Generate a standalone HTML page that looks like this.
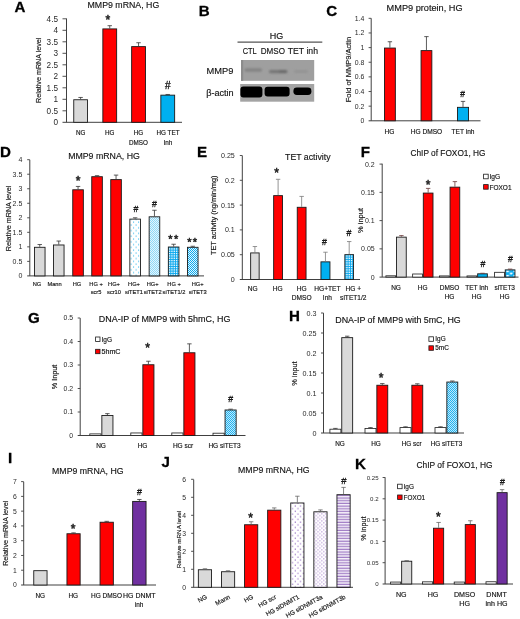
<!DOCTYPE html>
<html lang="en"><head><meta charset="utf-8"><title>Figure</title>
<style>
html,body{margin:0;padding:0;background:#fff;}
body{width:520px;height:619px;overflow:hidden;}
svg{display:block;font-family:"Liberation Sans",Arial,sans-serif;}
text{stroke:#222;stroke-width:0.16px;}
text.T{stroke:none;}
text.L{stroke:#000;stroke-width:0.3px;}
text.S{stroke:#222;stroke-width:0.5px;}
text.H{stroke:#111;stroke-width:0.3px;}
</style></head><body>
<svg width="520" height="619" viewBox="0 0 520 619">
<defs>
<pattern id="pbs" width="5" height="5.6" patternUnits="userSpaceOnUse"><rect width="5" height="5.6" fill="#fff"/><rect x="0.6" y="0.5" width="1" height="1" fill="#12aeee"/><rect x="3.1" y="3.3" width="1" height="1" fill="#12aeee"/></pattern>
<pattern id="pbd" width="2" height="2" patternUnits="userSpaceOnUse"><rect width="2" height="2" fill="#e3f5fd"/><rect x="0" y="0" width="1" height="1" fill="#8fd8f7"/><rect x="1" y="1" width="1" height="1" fill="#8fd8f7"/></pattern>
<pattern id="pbg" width="7" height="7" patternUnits="userSpaceOnUse"><rect width="7" height="7" fill="#0aa8ee"/><rect x="0.90" y="0.90" width="1.4" height="1.4" fill="#e8f7fe"/><rect x="0.90" y="3.23" width="1.4" height="1.4" fill="#e8f7fe"/><rect x="0.90" y="5.57" width="1.4" height="1.4" fill="#e8f7fe"/><rect x="3.23" y="0.90" width="1.4" height="1.4" fill="#e8f7fe"/><rect x="3.23" y="3.23" width="1.4" height="1.4" fill="#e8f7fe"/><rect x="3.23" y="5.57" width="1.4" height="1.4" fill="#e8f7fe"/><rect x="5.57" y="0.90" width="1.4" height="1.4" fill="#e8f7fe"/><rect x="5.57" y="3.23" width="1.4" height="1.4" fill="#e8f7fe"/><rect x="5.57" y="5.57" width="1.4" height="1.4" fill="#e8f7fe"/></pattern>
<pattern id="pbc" width="3.4" height="3.4" patternUnits="userSpaceOnUse" patternTransform="rotate(45)"><rect width="3.4" height="3.4" fill="#d2f0fc"/><rect x="0" y="0" width="1.7" height="1.7" fill="#0eaaee"/><rect x="1.7" y="1.7" width="1.7" height="1.7" fill="#0eaaee"/></pattern>
<pattern id="pbc3" width="2" height="2" patternUnits="userSpaceOnUse"><rect width="2" height="2" fill="#e4f6fe"/><rect x="0" y="0" width="1" height="1" fill="#0caaee"/><rect x="1" y="1" width="1" height="1" fill="#0caaee"/></pattern>
<pattern id="pbc2" width="2" height="2" patternUnits="userSpaceOnUse"><rect width="2" height="2" fill="#bfe9fb"/><rect x="0" y="0" width="1" height="1" fill="#22b3f0"/><rect x="1" y="1" width="1" height="1" fill="#22b3f0"/></pattern>
<pattern id="pbl" x="504.9" y="269.6" width="7.2" height="4.4" patternUnits="userSpaceOnUse"><rect width="7.2" height="4.4" fill="#10aef0"/><rect x="1.4" y="0.9" width="2.6" height="1.7" fill="#f4fbff"/><rect x="5" y="3.1" width="2.6" height="1.7" fill="#f4fbff"/><rect x="5" y="-1.3" width="2.6" height="1.7" fill="#f4fbff"/><rect x="-2.2" y="3.1" width="2.6" height="1.7" fill="#f4fbff"/></pattern>
<pattern id="pps" width="5.3" height="5.4" patternUnits="userSpaceOnUse"><rect width="5.3" height="5.4" fill="#fff"/><rect x="0.6" y="0.5" width="1.1" height="1.1" fill="#8a5cbc"/><rect x="3.25" y="3.2" width="1.1" height="1.1" fill="#8a5cbc"/></pattern>
<pattern id="ppd" width="3.8" height="3.6" patternUnits="userSpaceOnUse"><rect width="3.8" height="3.6" fill="#fff"/><rect x="0.3" y="0.3" width="1" height="1" fill="#9466c2"/><rect x="2.2" y="2.1" width="1" height="1" fill="#9466c2"/></pattern>
<pattern id="pph" width="2.7" height="2.7" patternUnits="userSpaceOnUse"><rect width="2.7" height="2.7" fill="#f6f1fa"/><rect x="0" y="0.6" width="2.7" height="1.15" fill="#9b76c2"/></pattern>
<linearGradient id="g1" x1="0" y1="0" x2="0" y2="1"><stop offset="0" stop-color="#a6a6a6"/><stop offset="1" stop-color="#9c9c9c"/></linearGradient>
<filter id="bl" x="-20%" y="-50%" width="140%" height="200%"><feGaussianBlur stdDeviation="1.1"/></filter>
<filter id="bl2" x="-20%" y="-50%" width="140%" height="200%"><feGaussianBlur stdDeviation="0.6"/></filter>
</defs>
<rect width="520" height="619" fill="#fff"/>

<text class="L" x="14.60" y="11.90" font-size="15.1" font-weight="bold" fill="#000">A</text>
<text class="L" x="198.70" y="16.00" font-size="15.1" font-weight="bold" fill="#000">B</text>
<text class="L" x="326.20" y="15.80" font-size="15.1" font-weight="bold" fill="#000">C</text>
<text class="L" x="-0.10" y="156.90" font-size="15.1" font-weight="bold" fill="#000">D</text>
<text class="L" x="197.00" y="156.90" font-size="15.1" font-weight="bold" fill="#000">E</text>
<text class="L" x="360.80" y="156.90" font-size="15.1" font-weight="bold" fill="#000">F</text>
<text class="L" x="28.00" y="323.20" font-size="15.1" font-weight="bold" fill="#000">G</text>
<text class="L" x="289.10" y="320.60" font-size="15.1" font-weight="bold" fill="#000">H</text>
<text class="L" x="8.00" y="463.30" font-size="15.1" font-weight="bold" fill="#000">I</text>
<text class="L" x="161.50" y="467.30" font-size="15.1" font-weight="bold" fill="#000">J</text>
<text class="L" x="355.10" y="469.00" font-size="15.1" font-weight="bold" fill="#000">K</text>
<g id="pA">
<text x="123.40" y="8.30" font-size="9.3" text-anchor="middle" textLength="71.7" lengthAdjust="spacingAndGlyphs" fill="#111">MMP9 mRNA, HG</text>
<path d="M66.50 18.50V122.30M62.50 122.30H182.00" stroke="#404040" stroke-width="1" fill="none"/>
<text class="T" x="58.00" y="125.25" font-size="8.2" text-anchor="end" fill="#2a2a2a">0</text>
<text class="T" x="58.00" y="113.75" font-size="8.2" text-anchor="end" fill="#2a2a2a">0.5</text>
<text class="T" x="58.00" y="102.25" font-size="8.2" text-anchor="end" fill="#2a2a2a">1</text>
<text class="T" x="58.00" y="90.75" font-size="8.2" text-anchor="end" fill="#2a2a2a">1.5</text>
<text class="T" x="58.00" y="79.25" font-size="8.2" text-anchor="end" fill="#2a2a2a">2</text>
<text class="T" x="58.00" y="67.75" font-size="8.2" text-anchor="end" fill="#2a2a2a">2.5</text>
<text class="T" x="58.00" y="56.25" font-size="8.2" text-anchor="end" fill="#2a2a2a">3</text>
<text class="T" x="58.00" y="44.75" font-size="8.2" text-anchor="end" fill="#2a2a2a">3.5</text>
<text class="T" x="58.00" y="33.25" font-size="8.2" text-anchor="end" fill="#2a2a2a">4</text>
<text class="T" x="58.00" y="21.75" font-size="8.2" text-anchor="end" fill="#2a2a2a">4.5</text>
<path d="M62.50 110.80H66.50M62.50 99.30H66.50M62.50 87.80H66.50M62.50 76.30H66.50M62.50 64.80H66.50M62.50 53.30H66.50M62.50 41.80H66.50M62.50 30.30H66.50M62.50 18.80H66.50" stroke="#404040" stroke-width="0.9" fill="none"/>
<text x="41.30" y="70.30" font-size="7.1" text-anchor="middle" transform="rotate(-90 41.30 70.30)" textLength="65.4" lengthAdjust="spacingAndGlyphs" fill="#111">Relative mRNA level</text>
<rect x="73.75" y="99.75" width="13.70" height="22.55" fill="#d9d9d9" stroke="#1a1a1a" stroke-width="0.9"/>
<path d="M80.60 99.30V97.46M78.40 97.46H82.80" stroke="#333" stroke-width="0.8" fill="none"/>
<rect x="102.85" y="28.91" width="13.80" height="93.39" fill="#ff0000" stroke="#1a1a1a" stroke-width="0.9"/>
<path d="M109.75 28.46V25.70M107.55 25.70H111.95" stroke="#333" stroke-width="0.8" fill="none"/>
<rect x="131.65" y="46.62" width="13.80" height="75.68" fill="#ff0000" stroke="#1a1a1a" stroke-width="0.9"/>
<path d="M138.55 46.17V42.72M136.35 42.72H140.75" stroke="#333" stroke-width="0.8" fill="none"/>
<rect x="160.85" y="95.15" width="13.80" height="27.15" fill="#00b0f0" stroke="#1a1a1a" stroke-width="0.9"/>
<path d="M167.75 94.70V94.47M165.55 94.47H169.95" stroke="#333" stroke-width="0.8" fill="none"/>
<text x="80.80" y="134.80" font-size="6.3" text-anchor="middle" fill="#111">NG</text>
<text x="109.80" y="134.80" font-size="6.3" text-anchor="middle" fill="#111">HG</text>
<text x="138.50" y="134.80" font-size="6.3" text-anchor="middle" fill="#111">HG</text>
<text x="138.50" y="144.50" font-size="6.3" text-anchor="middle" fill="#111">DMSO</text>
<text x="168.00" y="134.80" font-size="6.3" text-anchor="middle" fill="#111">HG TET</text>
<text x="168.00" y="144.50" font-size="6.3" text-anchor="middle" fill="#111">Inh</text>
<text class="S" x="107.90" y="23.99" font-size="12.2" text-anchor="middle" fill="#222">*</text>
<text class="H" x="167.90" y="89.00" font-size="10" text-anchor="middle" fill="#111">#</text>
</g>
<g id="pB">
<text x="276.50" y="38.80" font-size="9" text-anchor="middle" fill="#111">HG</text>
<path d="M237.5 42.2H322.3" stroke="#555" stroke-width="1.3"/>
<text x="242.70" y="54.00" font-size="9" textLength="14.0" lengthAdjust="spacingAndGlyphs" fill="#111">CTL</text>
<text x="260.80" y="54.00" font-size="9" textLength="24.2" lengthAdjust="spacingAndGlyphs" fill="#111">DMSO</text>
<text x="287.80" y="54.00" font-size="9" textLength="30.2" lengthAdjust="spacingAndGlyphs" fill="#111">TET inh</text>
<text x="206.60" y="74.20" font-size="9" textLength="26.8" lengthAdjust="spacingAndGlyphs" fill="#111">MMP9</text>
<text x="206.20" y="96.30" font-size="9" textLength="27.5" lengthAdjust="spacingAndGlyphs" fill="#111">β-actin</text>
<rect x="241" y="60" width="73.2" height="20.8" fill="#9f9f9f"/>
<rect x="241" y="60" width="2.2" height="20.8" fill="#8c8c8c"/>
<g filter="url(#bl)"><rect x="244.5" y="68.6" width="17.5" height="3" rx="1.5" fill="#808080"/><rect x="269" y="70" width="18.5" height="3.2" rx="1.6" fill="#747474"/><rect x="279" y="70.2" width="8" height="2.6" rx="1.3" fill="#686868"/><rect x="294" y="70.3" width="14" height="2.4" rx="1.2" fill="#929292"/></g>
<rect x="240.2" y="84" width="74" height="17.7" fill="#a4a4a4"/>
<g filter="url(#bl2)"><rect x="240.4" y="86.6" width="22" height="11" rx="3" fill="#000"/><rect x="264.6" y="86.8" width="25" height="9.8" rx="3" fill="#000"/><rect x="293.4" y="87.6" width="18" height="7.4" rx="3.4" fill="#040404"/></g>
</g>
<g id="pC">
<text x="424.60" y="10.80" font-size="9.3" text-anchor="middle" textLength="76.0" lengthAdjust="spacingAndGlyphs" fill="#111">MMP9 protein, HG</text>
<path d="M371.20 18.30V120.80M368.60 120.80H480.50" stroke="#404040" stroke-width="1" fill="none"/>
<text class="T" x="364.40" y="123.28" font-size="6.9" text-anchor="end" fill="#2a2a2a">0</text>
<text class="T" x="364.40" y="108.64" font-size="6.9" text-anchor="end" fill="#2a2a2a">0.2</text>
<text class="T" x="364.40" y="94.00" font-size="6.9" text-anchor="end" fill="#2a2a2a">0.4</text>
<text class="T" x="364.40" y="79.36" font-size="6.9" text-anchor="end" fill="#2a2a2a">0.6</text>
<text class="T" x="364.40" y="64.72" font-size="6.9" text-anchor="end" fill="#2a2a2a">0.8</text>
<text class="T" x="364.40" y="50.08" font-size="6.9" text-anchor="end" fill="#2a2a2a">1</text>
<text class="T" x="364.40" y="35.44" font-size="6.9" text-anchor="end" fill="#2a2a2a">1.2</text>
<text class="T" x="364.40" y="20.80" font-size="6.9" text-anchor="end" fill="#2a2a2a">1.4</text>
<path d="M368.60 106.16H371.20M368.60 91.52H371.20M368.60 76.88H371.20M368.60 62.24H371.20M368.60 47.60H371.20M368.60 32.96H371.20M368.60 18.32H371.20" stroke="#404040" stroke-width="0.9" fill="none"/>
<text x="350.80" y="69.50" font-size="7.2" text-anchor="middle" transform="rotate(-90 350.80 69.50)" textLength="65.4" lengthAdjust="spacingAndGlyphs" fill="#111">Fold of MMP9/Actin</text>
<rect x="384.45" y="48.05" width="10.90" height="72.75" fill="#ff0000" stroke="#1a1a1a" stroke-width="0.9"/>
<path d="M389.90 47.60V41.74M387.70 41.74H392.10" stroke="#333" stroke-width="0.8" fill="none"/>
<rect x="421.05" y="50.61" width="10.80" height="70.19" fill="#ff0000" stroke="#1a1a1a" stroke-width="0.9"/>
<path d="M426.45 50.16V36.62M424.25 36.62H428.65" stroke="#333" stroke-width="0.8" fill="none"/>
<rect x="457.45" y="107.34" width="11.10" height="13.46" fill="#00b0f0" stroke="#1a1a1a" stroke-width="0.9"/>
<path d="M463.00 106.89V101.40M460.80 101.40H465.20" stroke="#333" stroke-width="0.8" fill="none"/>
<text x="389.50" y="133.90" font-size="6.6" text-anchor="middle" fill="#111">HG</text>
<text x="426.50" y="133.90" font-size="6.6" text-anchor="middle" fill="#111">HG DMSO</text>
<text x="463.00" y="133.90" font-size="6.6" text-anchor="middle" fill="#111">TET inh</text>
<text class="H" x="462.60" y="96.72" font-size="8.4" text-anchor="middle" fill="#111">#</text>
</g>
<g id="pD">
<text x="104.00" y="158.80" font-size="9.3" text-anchor="middle" textLength="71.7" lengthAdjust="spacingAndGlyphs" fill="#111">MMP9 mRNA, HG</text>
<path d="M29.80 159.80V275.90M27.20 275.90H204.00" stroke="#404040" stroke-width="1" fill="none"/>
<text class="T" x="22.30" y="278.42" font-size="7" text-anchor="end" fill="#2a2a2a">0</text>
<text class="T" x="22.30" y="263.89" font-size="7" text-anchor="end" fill="#2a2a2a">0.5</text>
<text class="T" x="22.30" y="249.37" font-size="7" text-anchor="end" fill="#2a2a2a">1</text>
<text class="T" x="22.30" y="234.84" font-size="7" text-anchor="end" fill="#2a2a2a">1.5</text>
<text class="T" x="22.30" y="220.32" font-size="7" text-anchor="end" fill="#2a2a2a">2</text>
<text class="T" x="22.30" y="205.79" font-size="7" text-anchor="end" fill="#2a2a2a">2.5</text>
<text class="T" x="22.30" y="191.27" font-size="7" text-anchor="end" fill="#2a2a2a">3</text>
<text class="T" x="22.30" y="176.74" font-size="7" text-anchor="end" fill="#2a2a2a">3.5</text>
<text class="T" x="22.30" y="162.22" font-size="7" text-anchor="end" fill="#2a2a2a">4</text>
<path d="M27.20 261.38H29.80M27.20 246.85H29.80M27.20 232.32H29.80M27.20 217.80H29.80M27.20 203.27H29.80M27.20 188.75H29.80M27.20 174.22H29.80M27.20 159.70H29.80" stroke="#404040" stroke-width="0.9" fill="none"/>
<text x="10.90" y="218.50" font-size="7.1" text-anchor="middle" transform="rotate(-90 10.90 218.50)" textLength="65.5" lengthAdjust="spacingAndGlyphs" fill="#111">Relative mRNA level</text>
<rect x="34.45" y="247.30" width="10.60" height="28.60" fill="#d9d9d9" stroke="#1a1a1a" stroke-width="0.9"/>
<path d="M39.75 246.85V244.53M37.55 244.53H41.95" stroke="#333" stroke-width="0.8" fill="none"/>
<rect x="53.45" y="244.98" width="10.60" height="30.92" fill="#d9d9d9" stroke="#1a1a1a" stroke-width="0.9"/>
<path d="M58.75 244.53V241.04M56.55 241.04H60.95" stroke="#333" stroke-width="0.8" fill="none"/>
<rect x="72.75" y="189.78" width="10.60" height="86.12" fill="#ff0000" stroke="#1a1a1a" stroke-width="0.9"/>
<path d="M78.05 189.33V186.43M75.85 186.43H80.25" stroke="#333" stroke-width="0.8" fill="none"/>
<rect x="91.75" y="176.71" width="10.60" height="99.19" fill="#ff0000" stroke="#1a1a1a" stroke-width="0.9"/>
<path d="M97.05 176.26V175.68M94.85 175.68H99.25" stroke="#333" stroke-width="0.8" fill="none"/>
<rect x="110.75" y="179.61" width="10.60" height="96.29" fill="#ff0000" stroke="#1a1a1a" stroke-width="0.9"/>
<path d="M116.05 179.16V175.10M113.85 175.10H118.25" stroke="#333" stroke-width="0.8" fill="none"/>
<rect x="129.85" y="219.12" width="10.60" height="56.78" fill="url(#pbs)" stroke="#1a1a1a" stroke-width="0.9"/>
<path d="M135.15 218.67V217.80M132.95 217.80H137.35" stroke="#333" stroke-width="0.8" fill="none"/>
<rect x="149.15" y="216.80" width="10.60" height="59.10" fill="url(#pbd)" stroke="#1a1a1a" stroke-width="0.9"/>
<path d="M154.45 216.35V210.25M152.25 210.25H156.65" stroke="#333" stroke-width="0.8" fill="none"/>
<rect x="168.35" y="247.01" width="10.60" height="28.89" fill="url(#pbg)" stroke="#1a1a1a" stroke-width="0.9"/>
<path d="M173.65 246.56V244.24M171.45 244.24H175.85" stroke="#333" stroke-width="0.8" fill="none"/>
<rect x="187.45" y="247.30" width="10.60" height="28.60" fill="url(#pbc3)" stroke="#1a1a1a" stroke-width="0.9"/>
<path d="M192.75 246.85V246.27M190.55 246.27H194.95" stroke="#333" stroke-width="0.8" fill="none"/>
<text x="37.00" y="285.60" font-size="5.7" text-anchor="middle" fill="#111">NG</text>
<text x="54.60" y="285.60" font-size="5.7" text-anchor="middle" fill="#111">Mann</text>
<text x="77.00" y="285.60" font-size="5.7" text-anchor="middle" fill="#111">HG</text>
<text x="96.00" y="285.60" font-size="5.7" text-anchor="middle" fill="#111">HG +</text>
<text x="96.00" y="294.40" font-size="5.7" text-anchor="middle" fill="#111">scr5</text>
<text x="114.00" y="285.60" font-size="5.7" text-anchor="middle" fill="#111">HG+</text>
<text x="114.00" y="294.40" font-size="5.7" text-anchor="middle" fill="#111">scr10</text>
<text x="134.00" y="285.60" font-size="5.7" text-anchor="middle" fill="#111">HG+</text>
<text x="134.00" y="294.40" font-size="5.7" text-anchor="middle" fill="#111">siTET1</text>
<text x="152.70" y="285.60" font-size="5.7" text-anchor="middle" fill="#111">HG+</text>
<text x="152.70" y="294.40" font-size="5.7" text-anchor="middle" fill="#111">siTET2</text>
<text x="174.00" y="285.60" font-size="5.7" text-anchor="middle" fill="#111">HG +</text>
<text x="174.00" y="294.40" font-size="5.7" text-anchor="middle" fill="#111">siTET1/2</text>
<text x="197.70" y="285.60" font-size="5.7" text-anchor="middle" fill="#111">HG+</text>
<text x="197.70" y="294.40" font-size="5.7" text-anchor="middle" fill="#111">siTET3</text>
<text class="S" x="78.00" y="185.39" font-size="12.2" text-anchor="middle" fill="#222">*</text>
<text class="H" x="135.80" y="212.33" font-size="8.7" text-anchor="middle" fill="#111">#</text>
<text class="H" x="154.50" y="207.43" font-size="8.7" text-anchor="middle" fill="#111">#</text>
<text class="S" x="170.50" y="243.24" font-size="11" text-anchor="middle" fill="#222">*</text>
<text class="S" x="176.20" y="243.24" font-size="11" text-anchor="middle" fill="#222">*</text>
<text class="S" x="189.50" y="245.94" font-size="11" text-anchor="middle" fill="#222">*</text>
<text class="S" x="195.00" y="245.94" font-size="11" text-anchor="middle" fill="#222">*</text>
</g>
<g id="pE">
<text x="307.80" y="159.80" font-size="9.3" text-anchor="middle" textLength="45.5" lengthAdjust="spacingAndGlyphs" fill="#111">TET activity</text>
<path d="M242.30 155.60V279.50M239.80 279.50H360.00" stroke="#404040" stroke-width="1" fill="none"/>
<text class="T" x="234.80" y="282.06" font-size="7.1" text-anchor="end" fill="#2a2a2a">0</text>
<text class="T" x="234.80" y="257.26" font-size="7.1" text-anchor="end" fill="#2a2a2a">0.05</text>
<text class="T" x="234.80" y="232.46" font-size="7.1" text-anchor="end" fill="#2a2a2a">0.1</text>
<text class="T" x="234.80" y="207.66" font-size="7.1" text-anchor="end" fill="#2a2a2a">0.15</text>
<text class="T" x="234.80" y="182.86" font-size="7.1" text-anchor="end" fill="#2a2a2a">0.2</text>
<text class="T" x="234.80" y="158.06" font-size="7.1" text-anchor="end" fill="#2a2a2a">0.25</text>
<path d="M239.80 254.70H242.30M239.80 229.90H242.30M239.80 205.10H242.30M239.80 180.30H242.30M239.80 155.50H242.30" stroke="#404040" stroke-width="0.9" fill="none"/>
<text x="216.20" y="215.30" font-size="7.4" text-anchor="middle" transform="rotate(-90 216.20 215.30)" textLength="79.5" lengthAdjust="spacingAndGlyphs" fill="#111">TET activity (ng/min/mg)</text>
<rect x="250.65" y="252.92" width="8.50" height="26.58" fill="#d9d9d9" stroke="#1a1a1a" stroke-width="0.9"/>
<path d="M254.90 252.47V246.52M252.70 246.52H257.10" stroke="#7a7a7a" stroke-width="0.8" fill="none"/>
<rect x="273.65" y="195.63" width="8.90" height="83.87" fill="#ff0000" stroke="#1a1a1a" stroke-width="0.9"/>
<path d="M278.10 195.18V179.31M275.90 179.31H280.30" stroke="#7a7a7a" stroke-width="0.8" fill="none"/>
<rect x="297.25" y="207.29" width="8.80" height="72.21" fill="#ff0000" stroke="#1a1a1a" stroke-width="0.9"/>
<path d="M301.65 206.84V196.42M299.45 196.42H303.85" stroke="#7a7a7a" stroke-width="0.8" fill="none"/>
<rect x="320.95" y="261.85" width="9.00" height="17.65" fill="#00b0f0" stroke="#1a1a1a" stroke-width="0.9"/>
<path d="M325.45 261.40V252.22M323.25 252.22H327.65" stroke="#7a7a7a" stroke-width="0.8" fill="none"/>
<rect x="344.85" y="254.65" width="8.70" height="24.85" fill="url(#pbg)" stroke="#1a1a1a" stroke-width="0.9"/>
<path d="M349.20 254.20V241.56M347.00 241.56H351.40" stroke="#7a7a7a" stroke-width="0.8" fill="none"/>
<text x="252.60" y="290.50" font-size="6.6" text-anchor="middle" fill="#111">NG</text>
<text x="277.60" y="290.50" font-size="6.6" text-anchor="middle" fill="#111">HG</text>
<text x="301.70" y="290.50" font-size="6.6" text-anchor="middle" fill="#111">HG</text>
<text x="301.70" y="300.00" font-size="6.6" text-anchor="middle" fill="#111">DMSO</text>
<text x="327.40" y="290.50" font-size="6.6" text-anchor="middle" fill="#111">HG+TET</text>
<text x="327.40" y="300.00" font-size="6.6" text-anchor="middle" fill="#111">Inh</text>
<text x="353.30" y="290.50" font-size="6.6" text-anchor="middle" fill="#111">HG +</text>
<text x="353.30" y="300.00" font-size="6.6" text-anchor="middle" fill="#111">siTET1/2</text>
<text class="S" x="276.50" y="177.09" font-size="12.2" text-anchor="middle" fill="#222">*</text>
<text class="H" x="324.30" y="245.13" font-size="8.7" text-anchor="middle" fill="#111">#</text>
<text class="H" x="348.80" y="236.13" font-size="8.7" text-anchor="middle" fill="#111">#</text>
</g>
<g id="pF">
<text x="448.00" y="156.20" font-size="9.3" text-anchor="middle" textLength="75.0" lengthAdjust="spacingAndGlyphs" fill="#111">ChIP of FOXO1, HG</text>
<path d="M382.20 163.70V277.10M379.50 277.10H518.50" stroke="#404040" stroke-width="1" fill="none"/>
<text class="T" x="374.70" y="279.62" font-size="7" text-anchor="end" fill="#2a2a2a">0</text>
<text class="T" x="374.70" y="251.37" font-size="7" text-anchor="end" fill="#2a2a2a">0.05</text>
<text class="T" x="374.70" y="223.12" font-size="7" text-anchor="end" fill="#2a2a2a">0.1</text>
<text class="T" x="374.70" y="194.87" font-size="7" text-anchor="end" fill="#2a2a2a">0.15</text>
<text class="T" x="374.70" y="166.62" font-size="7" text-anchor="end" fill="#2a2a2a">0.2</text>
<path d="M379.50 248.85H382.20M379.50 220.60H382.20M379.50 192.35H382.20M379.50 164.10H382.20" stroke="#404040" stroke-width="0.9" fill="none"/>
<text x="362.60" y="220.50" font-size="7.2" text-anchor="middle" transform="rotate(-90 362.60 220.50)" textLength="25.0" lengthAdjust="spacingAndGlyphs" fill="#111">% input</text>
<rect x="385.90" y="275.81" width="9.80" height="1.30" fill="#ffffff" stroke="#1a1a1a" stroke-width="0.8"/>
<rect x="396.55" y="237.15" width="9.70" height="39.95" fill="#d9d9d9" stroke="#1a1a1a" stroke-width="0.9"/>
<path d="M401.40 236.70V235.57M399.20 235.57H403.60" stroke="#6b3a3a" stroke-width="0.8" fill="none"/>
<rect x="412.65" y="274.00" width="9.80" height="3.10" fill="#ffffff" stroke="#1a1a1a" stroke-width="0.8"/>
<rect x="423.30" y="193.08" width="9.70" height="84.02" fill="#ff0000" stroke="#1a1a1a" stroke-width="0.9"/>
<path d="M428.15 192.63V188.40M425.95 188.40H430.35" stroke="#6b3a3a" stroke-width="0.8" fill="none"/>
<rect x="439.40" y="275.92" width="9.80" height="1.18" fill="#ffffff" stroke="#1a1a1a" stroke-width="0.8"/>
<rect x="450.05" y="187.15" width="9.70" height="89.95" fill="#ff0000" stroke="#1a1a1a" stroke-width="0.9"/>
<path d="M454.90 186.70V181.62M452.70 181.62H457.10" stroke="#6b3a3a" stroke-width="0.8" fill="none"/>
<rect x="467.00" y="275.92" width="9.80" height="1.18" fill="#ffffff" stroke="#1a1a1a" stroke-width="0.8"/>
<rect x="477.65" y="273.82" width="9.70" height="3.28" fill="#00b0f0" stroke="#1a1a1a" stroke-width="0.9"/>
<path d="M482.50 273.37V273.26M480.30 273.26H484.70" stroke="#6b3a3a" stroke-width="0.8" fill="none"/>
<rect x="494.60" y="272.30" width="9.80" height="4.80" fill="#ffffff" stroke="#1a1a1a" stroke-width="0.8"/>
<rect x="505.25" y="269.87" width="9.70" height="7.23" fill="url(#pbl)" stroke="#1a1a1a" stroke-width="0.9"/>
<path d="M510.10 269.42V269.08M507.90 269.08H512.30" stroke="#6b3a3a" stroke-width="0.8" fill="none"/>
<rect x="483.6" y="174.2" width="4.6" height="4.6" fill="#fff" stroke="#1a1a1a" stroke-width="0.8"/>
<rect x="483.6" y="184.6" width="4.6" height="4.6" fill="#ff0000" stroke="#1a1a1a" stroke-width="0.8"/>
<text x="489.50" y="178.70" font-size="6.6" fill="#111">IgG</text>
<text x="489.50" y="189.50" font-size="6.6" textLength="22.0" lengthAdjust="spacingAndGlyphs" fill="#111">FOXO1</text>
<text x="396.00" y="289.80" font-size="6.5" text-anchor="middle" fill="#111">NG</text>
<text x="422.60" y="289.80" font-size="6.5" text-anchor="middle" fill="#111">HG</text>
<text x="449.50" y="289.80" font-size="6.5" text-anchor="middle" fill="#111">DMSO</text>
<text x="449.50" y="299.00" font-size="6.5" text-anchor="middle" fill="#111">HG</text>
<text x="476.70" y="289.80" font-size="6.5" text-anchor="middle" fill="#111">TET Inh</text>
<text x="476.70" y="299.00" font-size="6.5" text-anchor="middle" fill="#111">HG</text>
<text x="504.70" y="289.80" font-size="6.5" text-anchor="middle" fill="#111">siTET3</text>
<text x="504.70" y="299.00" font-size="6.5" text-anchor="middle" fill="#111">HG</text>
<text class="S" x="428.00" y="189.09" font-size="12.2" text-anchor="middle" fill="#222">*</text>
<text class="H" x="483.00" y="267.13" font-size="8.7" text-anchor="middle" fill="#111">#</text>
<text class="H" x="510.40" y="262.43" font-size="8.7" text-anchor="middle" fill="#111">#</text>
</g>
<g id="pG">
<text x="164.60" y="321.50" font-size="8.9" text-anchor="middle" textLength="131.5" lengthAdjust="spacingAndGlyphs" fill="#111">DNA-IP of MMP9 with 5hmC, HG</text>
<path d="M80.20 318.10V435.50M77.70 435.50H245.50" stroke="#404040" stroke-width="1" fill="none"/>
<text class="T" x="73.20" y="437.98" font-size="6.9" text-anchor="end" fill="#2a2a2a">0</text>
<text class="T" x="73.20" y="414.48" font-size="6.9" text-anchor="end" fill="#2a2a2a">0.1</text>
<text class="T" x="73.20" y="390.98" font-size="6.9" text-anchor="end" fill="#2a2a2a">0.2</text>
<text class="T" x="73.20" y="367.48" font-size="6.9" text-anchor="end" fill="#2a2a2a">0.3</text>
<text class="T" x="73.20" y="343.98" font-size="6.9" text-anchor="end" fill="#2a2a2a">0.4</text>
<text class="T" x="73.20" y="320.48" font-size="6.9" text-anchor="end" fill="#2a2a2a">0.5</text>
<path d="M77.70 412.00H80.20M77.70 388.50H80.20M77.70 365.00H80.20M77.70 341.50H80.20M77.70 318.00H80.20" stroke="#404040" stroke-width="0.9" fill="none"/>
<text x="57.40" y="377.00" font-size="6.8" text-anchor="middle" transform="rotate(-90 57.40 377.00)" textLength="24.7" lengthAdjust="spacingAndGlyphs" fill="#111">% Input</text>
<rect x="89.80" y="433.90" width="11.20" height="1.60" fill="#ffffff" stroke="#1a1a1a" stroke-width="0.8"/>
<rect x="101.85" y="415.50" width="11.10" height="20.00" fill="#d9d9d9" stroke="#1a1a1a" stroke-width="0.9"/>
<path d="M107.40 415.06V413.64M105.20 413.64H109.60" stroke="#333" stroke-width="0.8" fill="none"/>
<rect x="130.80" y="432.96" width="11.20" height="2.54" fill="#ffffff" stroke="#1a1a1a" stroke-width="0.8"/>
<rect x="142.85" y="364.75" width="11.10" height="70.75" fill="#ff0000" stroke="#1a1a1a" stroke-width="0.9"/>
<path d="M148.40 364.30V361.24M146.20 361.24H150.60" stroke="#333" stroke-width="0.8" fill="none"/>
<rect x="171.80" y="432.96" width="11.20" height="2.54" fill="#ffffff" stroke="#1a1a1a" stroke-width="0.8"/>
<rect x="183.85" y="352.76" width="11.10" height="82.74" fill="#ff0000" stroke="#1a1a1a" stroke-width="0.9"/>
<path d="M189.40 352.31V343.85M187.20 343.85H191.60" stroke="#333" stroke-width="0.8" fill="none"/>
<rect x="213.00" y="433.20" width="11.20" height="2.30" fill="#ffffff" stroke="#1a1a1a" stroke-width="0.8"/>
<rect x="225.05" y="409.98" width="11.10" height="25.52" fill="url(#pbc2)" stroke="#1a1a1a" stroke-width="0.9"/>
<path d="M230.60 409.53V409.18M228.40 409.18H232.80" stroke="#333" stroke-width="0.8" fill="none"/>
<rect x="95.6" y="337" width="4.4" height="4.4" fill="#fff" stroke="#1a1a1a" stroke-width="0.8"/>
<rect x="95.6" y="349.3" width="4.4" height="4.4" fill="#ff0000" stroke="#1a1a1a" stroke-width="0.8"/>
<text x="101.50" y="341.80" font-size="6.8" textLength="10.5" lengthAdjust="spacingAndGlyphs" fill="#111">IgG</text>
<text x="101.50" y="354.00" font-size="6.8" textLength="19.0" lengthAdjust="spacingAndGlyphs" fill="#111">5hmC</text>
<text x="101.00" y="447.60" font-size="6.5" text-anchor="middle" fill="#111">NG</text>
<text x="142.50" y="447.60" font-size="6.5" text-anchor="middle" fill="#111">HG</text>
<text x="183.00" y="447.60" font-size="6.5" text-anchor="middle" fill="#111">HG scr</text>
<text x="224.50" y="447.60" font-size="6.5" text-anchor="middle" fill="#111">HG siTET3</text>
<text class="S" x="147.50" y="352.39" font-size="12.2" text-anchor="middle" fill="#222">*</text>
<text class="H" x="230.70" y="401.93" font-size="8.7" text-anchor="middle" fill="#111">#</text>
</g>
<g id="pH">
<text x="398.00" y="323.20" font-size="9" text-anchor="middle" textLength="125.5" lengthAdjust="spacingAndGlyphs" fill="#111">DNA-IP of MMP9 with 5mC, HG</text>
<path d="M323.50 313.10V433.00M321.00 433.00H464.00" stroke="#404040" stroke-width="1" fill="none"/>
<text class="T" x="316.50" y="435.59" font-size="7.2" text-anchor="end" fill="#2a2a2a">0</text>
<text class="T" x="316.50" y="415.59" font-size="7.2" text-anchor="end" fill="#2a2a2a">0.05</text>
<text class="T" x="316.50" y="395.59" font-size="7.2" text-anchor="end" fill="#2a2a2a">0.1</text>
<text class="T" x="316.50" y="375.59" font-size="7.2" text-anchor="end" fill="#2a2a2a">0.15</text>
<text class="T" x="316.50" y="355.59" font-size="7.2" text-anchor="end" fill="#2a2a2a">0.2</text>
<text class="T" x="316.50" y="335.59" font-size="7.2" text-anchor="end" fill="#2a2a2a">0.25</text>
<text class="T" x="316.50" y="315.59" font-size="7.2" text-anchor="end" fill="#2a2a2a">0.3</text>
<path d="M321.00 413.00H323.50M321.00 393.00H323.50M321.00 373.00H323.50M321.00 353.00H323.50M321.00 333.00H323.50M321.00 313.00H323.50" stroke="#404040" stroke-width="0.9" fill="none"/>
<text x="296.60" y="373.60" font-size="6.9" text-anchor="middle" transform="rotate(-90 296.60 373.60)" textLength="24.2" lengthAdjust="spacingAndGlyphs" fill="#111">% input</text>
<rect x="329.90" y="429.20" width="11.00" height="3.80" fill="#ffffff" stroke="#1a1a1a" stroke-width="0.8"/>
<path d="M335.40 428.80V428.40M333.20 428.40H337.60" stroke="#333" stroke-width="0.8" fill="none"/>
<rect x="341.75" y="337.65" width="10.90" height="95.35" fill="#d9d9d9" stroke="#1a1a1a" stroke-width="0.9"/>
<path d="M347.20 337.20V336.20M345.00 336.20H349.40" stroke="#333" stroke-width="0.8" fill="none"/>
<rect x="365.00" y="428.40" width="11.00" height="4.60" fill="#ffffff" stroke="#1a1a1a" stroke-width="0.8"/>
<path d="M370.50 428.00V427.60M368.30 427.60H372.70" stroke="#333" stroke-width="0.8" fill="none"/>
<rect x="376.85" y="385.25" width="10.90" height="47.75" fill="#ff0000" stroke="#1a1a1a" stroke-width="0.9"/>
<path d="M382.30 384.80V383.60M380.10 383.60H384.50" stroke="#333" stroke-width="0.8" fill="none"/>
<rect x="400.00" y="427.60" width="11.00" height="5.40" fill="#ffffff" stroke="#1a1a1a" stroke-width="0.8"/>
<path d="M405.50 427.20V426.80M403.30 426.80H407.70" stroke="#333" stroke-width="0.8" fill="none"/>
<rect x="411.85" y="385.25" width="10.90" height="47.75" fill="#ff0000" stroke="#1a1a1a" stroke-width="0.9"/>
<path d="M417.30 384.80V383.80M415.10 383.80H419.50" stroke="#333" stroke-width="0.8" fill="none"/>
<rect x="435.00" y="427.60" width="11.00" height="5.40" fill="#ffffff" stroke="#1a1a1a" stroke-width="0.8"/>
<path d="M440.50 427.20V426.80M438.30 426.80H442.70" stroke="#333" stroke-width="0.8" fill="none"/>
<rect x="446.85" y="382.05" width="10.90" height="50.95" fill="url(#pbc2)" stroke="#1a1a1a" stroke-width="0.9"/>
<path d="M452.30 381.60V381.00M450.10 381.00H454.50" stroke="#333" stroke-width="0.8" fill="none"/>
<rect x="428.9" y="336.8" width="4.5" height="4.5" fill="#fff" stroke="#1a1a1a" stroke-width="0.8"/>
<rect x="428.9" y="345.8" width="4.5" height="4.5" fill="#ff0000" stroke="#1a1a1a" stroke-width="0.8"/>
<text x="435.30" y="341.40" font-size="6.4" fill="#111">IgG</text>
<text x="435.30" y="350.40" font-size="6.4" fill="#111">5mC</text>
<text x="340.00" y="446.00" font-size="6.4" text-anchor="middle" fill="#111">NG</text>
<text x="376.00" y="446.00" font-size="6.4" text-anchor="middle" fill="#111">HG</text>
<text x="411.70" y="446.00" font-size="6.4" text-anchor="middle" fill="#111">HG scr</text>
<text x="446.50" y="446.00" font-size="6.4" text-anchor="middle" fill="#111">HG siTET3</text>
<text class="S" x="381.20" y="382.09" font-size="12.2" text-anchor="middle" fill="#222">*</text>
</g>
<g id="pI">
<text x="87.80" y="474.40" font-size="9.3" text-anchor="middle" textLength="71.5" lengthAdjust="spacingAndGlyphs" fill="#111">MMP9 mRNA, HG</text>
<path d="M23.70 481.80V585.00M21.10 585.00H156.00" stroke="#404040" stroke-width="1" fill="none"/>
<text class="T" x="16.70" y="587.45" font-size="6.8" text-anchor="end" fill="#2a2a2a">0</text>
<text class="T" x="16.70" y="572.68" font-size="6.8" text-anchor="end" fill="#2a2a2a">1</text>
<text class="T" x="16.70" y="557.91" font-size="6.8" text-anchor="end" fill="#2a2a2a">2</text>
<text class="T" x="16.70" y="543.14" font-size="6.8" text-anchor="end" fill="#2a2a2a">3</text>
<text class="T" x="16.70" y="528.37" font-size="6.8" text-anchor="end" fill="#2a2a2a">4</text>
<text class="T" x="16.70" y="513.60" font-size="6.8" text-anchor="end" fill="#2a2a2a">5</text>
<text class="T" x="16.70" y="498.83" font-size="6.8" text-anchor="end" fill="#2a2a2a">6</text>
<text class="T" x="16.70" y="484.06" font-size="6.8" text-anchor="end" fill="#2a2a2a">7</text>
<path d="M21.10 570.23H23.70M21.10 555.46H23.70M21.10 540.69H23.70M21.10 525.92H23.70M21.10 511.15H23.70M21.10 496.38H23.70M21.10 481.61H23.70" stroke="#404040" stroke-width="0.9" fill="none"/>
<text x="7.60" y="533.30" font-size="7.0" text-anchor="middle" transform="rotate(-90 7.60 533.30)" textLength="65.0" lengthAdjust="spacingAndGlyphs" fill="#111">Relative mRNA level</text>
<rect x="33.75" y="570.68" width="13.30" height="14.32" fill="#d9d9d9" stroke="#1a1a1a" stroke-width="0.9"/>
<rect x="66.95" y="533.75" width="13.20" height="51.25" fill="#ff0000" stroke="#1a1a1a" stroke-width="0.9"/>
<path d="M73.55 533.30V532.86M71.35 532.86H75.75" stroke="#333" stroke-width="0.8" fill="none"/>
<rect x="100.05" y="522.23" width="13.30" height="62.77" fill="#ff0000" stroke="#1a1a1a" stroke-width="0.9"/>
<path d="M106.70 521.78V521.34M104.50 521.34H108.90" stroke="#333" stroke-width="0.8" fill="none"/>
<rect x="132.65" y="501.41" width="13.40" height="83.59" fill="#7030a0" stroke="#1a1a1a" stroke-width="0.9"/>
<path d="M139.35 500.96V499.48M137.15 499.48H141.55" stroke="#333" stroke-width="0.8" fill="none"/>
<text x="40.30" y="598.00" font-size="6.4" text-anchor="middle" fill="#111">NG</text>
<text x="73.30" y="598.00" font-size="6.4" text-anchor="middle" fill="#111">HG</text>
<text x="106.50" y="598.00" font-size="6.4" text-anchor="middle" textLength="31.0" lengthAdjust="spacingAndGlyphs" fill="#111">HG DMSO</text>
<text x="139.30" y="598.00" font-size="6.4" text-anchor="middle" textLength="32.5" lengthAdjust="spacingAndGlyphs" fill="#111">HG DNMT</text>
<text x="139.00" y="607.20" font-size="6.4" text-anchor="middle" fill="#111">inh</text>
<text class="S" x="73.00" y="533.39" font-size="12.2" text-anchor="middle" fill="#222">*</text>
<text class="H" x="139.50" y="494.93" font-size="8.7" text-anchor="middle" fill="#111">#</text>
</g>
<g id="pJ">
<text x="273.80" y="473.20" font-size="9.3" text-anchor="middle" textLength="71.5" lengthAdjust="spacingAndGlyphs" fill="#111">MMP9 mRNA, HG</text>
<path d="M193.70 479.60V587.30M191.10 587.30H353.00" stroke="#404040" stroke-width="1" fill="none"/>
<text class="T" x="186.10" y="589.75" font-size="6.8" text-anchor="end" fill="#2a2a2a">0</text>
<text class="T" x="186.10" y="571.75" font-size="6.8" text-anchor="end" fill="#2a2a2a">1</text>
<text class="T" x="186.10" y="553.75" font-size="6.8" text-anchor="end" fill="#2a2a2a">2</text>
<text class="T" x="186.10" y="535.75" font-size="6.8" text-anchor="end" fill="#2a2a2a">3</text>
<text class="T" x="186.10" y="517.75" font-size="6.8" text-anchor="end" fill="#2a2a2a">4</text>
<text class="T" x="186.10" y="499.75" font-size="6.8" text-anchor="end" fill="#2a2a2a">5</text>
<text class="T" x="186.10" y="481.75" font-size="6.8" text-anchor="end" fill="#2a2a2a">6</text>
<path d="M191.10 569.30H193.70M191.10 551.30H193.70M191.10 533.30H193.70M191.10 515.30H193.70M191.10 497.30H193.70M191.10 479.30H193.70" stroke="#404040" stroke-width="0.9" fill="none"/>
<text x="181.30" y="539.50" font-size="6.2" text-anchor="middle" transform="rotate(-90 181.30 539.50)" textLength="57.4" lengthAdjust="spacingAndGlyphs" fill="#111">Relative mRNA level</text>
<rect x="198.35" y="569.75" width="13.20" height="17.55" fill="#d9d9d9" stroke="#1a1a1a" stroke-width="0.9"/>
<path d="M204.95 569.30V568.76M202.75 568.76H207.15" stroke="#666" stroke-width="0.8" fill="none"/>
<rect x="221.45" y="571.73" width="13.20" height="15.57" fill="#d9d9d9" stroke="#1a1a1a" stroke-width="0.9"/>
<path d="M228.05 571.28V570.74M225.85 570.74H230.25" stroke="#666" stroke-width="0.8" fill="none"/>
<rect x="244.55" y="524.75" width="13.20" height="62.55" fill="#ff0000" stroke="#1a1a1a" stroke-width="0.9"/>
<path d="M251.15 524.30V521.78M248.95 521.78H253.35" stroke="#666" stroke-width="0.8" fill="none"/>
<rect x="267.65" y="510.17" width="13.20" height="77.13" fill="#ff0000" stroke="#1a1a1a" stroke-width="0.9"/>
<path d="M274.25 509.72V507.92M272.05 507.92H276.45" stroke="#666" stroke-width="0.8" fill="none"/>
<rect x="290.75" y="502.97" width="13.20" height="84.33" fill="url(#pps)" stroke="#1a1a1a" stroke-width="0.9"/>
<path d="M297.35 502.52V496.22M295.15 496.22H299.55" stroke="#666" stroke-width="0.8" fill="none"/>
<rect x="313.85" y="511.79" width="13.20" height="75.51" fill="url(#ppd)" stroke="#1a1a1a" stroke-width="0.9"/>
<path d="M320.45 511.34V509.90M318.25 509.90H322.65" stroke="#666" stroke-width="0.8" fill="none"/>
<rect x="336.95" y="494.69" width="13.20" height="92.61" fill="url(#pph)" stroke="#1a1a1a" stroke-width="0.9"/>
<path d="M343.55 494.24V487.40M341.35 487.40H345.75" stroke="#666" stroke-width="0.8" fill="none"/>
<text x="207.55" y="598.20" font-size="6.3" text-anchor="end" transform="rotate(-29 207.55 598.20)" fill="#111">NG</text>
<text x="230.65" y="598.20" font-size="6.3" text-anchor="end" transform="rotate(-29 230.65 598.20)" fill="#111">Mann</text>
<text x="253.75" y="598.20" font-size="6.3" text-anchor="end" transform="rotate(-29 253.75 598.20)" fill="#111">HG</text>
<text x="276.85" y="598.20" font-size="6.3" text-anchor="end" transform="rotate(-29 276.85 598.20)" fill="#111">HG scr</text>
<text x="299.95" y="598.20" font-size="6.3" text-anchor="end" transform="rotate(-29 299.95 598.20)" fill="#111">HG siDNMT1</text>
<text x="323.05" y="598.20" font-size="6.3" text-anchor="end" transform="rotate(-29 323.05 598.20)" fill="#111">HG siDNMT3a</text>
<text x="346.15" y="598.20" font-size="6.3" text-anchor="end" transform="rotate(-29 346.15 598.20)" fill="#111">HG siDNMT3b</text>
<text class="S" x="250.50" y="522.09" font-size="12.2" text-anchor="middle" fill="#222">*</text>
<text class="H" x="343.80" y="483.88" font-size="9.4" text-anchor="middle" fill="#111">#</text>
</g>
<g id="pK">
<text x="454.50" y="468.00" font-size="9.3" text-anchor="middle" textLength="76.0" lengthAdjust="spacingAndGlyphs" fill="#111">ChIP of FOXO1, HG</text>
<path d="M385.10 477.30V584.00M382.60 584.00H513.00" stroke="#404040" stroke-width="1" fill="none"/>
<text class="T" x="378.60" y="586.20" font-size="6.1" text-anchor="end" fill="#2a2a2a">0</text>
<text class="T" x="378.60" y="564.90" font-size="6.1" text-anchor="end" fill="#2a2a2a">0.05</text>
<text class="T" x="378.60" y="543.60" font-size="6.1" text-anchor="end" fill="#2a2a2a">0.1</text>
<text class="T" x="378.60" y="522.30" font-size="6.1" text-anchor="end" fill="#2a2a2a">0.15</text>
<text class="T" x="378.60" y="501.00" font-size="6.1" text-anchor="end" fill="#2a2a2a">0.2</text>
<text class="T" x="378.60" y="479.70" font-size="6.1" text-anchor="end" fill="#2a2a2a">0.25</text>
<path d="M382.60 562.70H385.10M382.60 541.40H385.10M382.60 520.10H385.10M382.60 498.80H385.10M382.60 477.50H385.10" stroke="#404040" stroke-width="0.9" fill="none"/>
<text x="365.70" y="528.60" font-size="6.9" text-anchor="middle" transform="rotate(-90 365.70 528.60)" textLength="24.2" lengthAdjust="spacingAndGlyphs" fill="#111">% input</text>
<rect x="390.60" y="582.06" width="10.20" height="1.94" fill="#ffffff" stroke="#1a1a1a" stroke-width="0.8"/>
<rect x="401.65" y="561.23" width="10.10" height="22.77" fill="#d9d9d9" stroke="#1a1a1a" stroke-width="0.9"/>
<path d="M406.70 560.78V560.57M404.50 560.57H408.90" stroke="#666" stroke-width="0.8" fill="none"/>
<rect x="422.50" y="581.84" width="10.20" height="2.16" fill="#ffffff" stroke="#1a1a1a" stroke-width="0.8"/>
<rect x="433.55" y="528.22" width="10.10" height="55.78" fill="#ff0000" stroke="#1a1a1a" stroke-width="0.9"/>
<path d="M438.60 527.77V522.44M436.40 522.44H440.80" stroke="#666" stroke-width="0.8" fill="none"/>
<rect x="454.20" y="582.06" width="10.20" height="1.94" fill="#ffffff" stroke="#1a1a1a" stroke-width="0.8"/>
<rect x="465.25" y="524.60" width="10.10" height="59.40" fill="#ff0000" stroke="#1a1a1a" stroke-width="0.9"/>
<path d="M470.30 524.15V520.74M468.10 520.74H472.50" stroke="#666" stroke-width="0.8" fill="none"/>
<rect x="486.00" y="581.76" width="10.20" height="2.24" fill="#ffffff" stroke="#1a1a1a" stroke-width="0.8"/>
<rect x="497.05" y="492.65" width="10.10" height="91.35" fill="#7030a0" stroke="#1a1a1a" stroke-width="0.9"/>
<path d="M502.10 492.20V489.64M499.90 489.64H504.30" stroke="#666" stroke-width="0.8" fill="none"/>
<rect x="397.6" y="484.2" width="4.5" height="4.5" fill="#fff" stroke="#1a1a1a" stroke-width="0.8"/>
<rect x="397.6" y="495" width="4.5" height="4.5" fill="#ff0000" stroke="#1a1a1a" stroke-width="0.8"/>
<text x="403.60" y="488.90" font-size="6.4" fill="#111">IgG</text>
<text x="403.60" y="499.80" font-size="6.4" textLength="21.5" lengthAdjust="spacingAndGlyphs" fill="#111">FOXO1</text>
<text x="401.20" y="596.60" font-size="7.1" text-anchor="middle" fill="#111">NG</text>
<text x="433.00" y="596.60" font-size="7.1" text-anchor="middle" fill="#111">HG</text>
<text x="464.60" y="596.60" font-size="7.1" text-anchor="middle" fill="#111">DMSO</text>
<text x="464.60" y="605.90" font-size="7.1" text-anchor="middle" fill="#111">HG</text>
<text x="496.60" y="596.60" font-size="7.1" text-anchor="middle" fill="#111">DNMT</text>
<text x="496.60" y="605.90" font-size="7.1" text-anchor="middle" fill="#111">inh HG</text>
<text class="S" x="438.30" y="521.09" font-size="12.2" text-anchor="middle" fill="#222">*</text>
<text class="H" x="502.50" y="485.13" font-size="8.7" text-anchor="middle" fill="#111">#</text>
</g>
</svg>
</body></html>
